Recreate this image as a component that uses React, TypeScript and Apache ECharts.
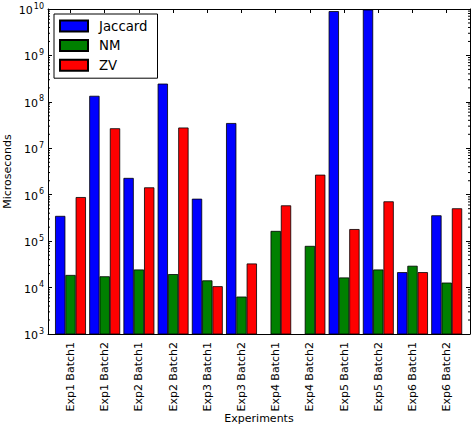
import React, { useEffect, useRef } from "react";
import * as echarts from "echarts";

// Run-time measurements per experiment batch (microseconds)
const experiments = [
  "Exp1 Batch1", "Exp1 Batch2", "Exp2 Batch1", "Exp2 Batch2",
  "Exp3 Batch1", "Exp3 Batch2", "Exp4 Batch1", "Exp4 Batch2",
  "Exp5 Batch1", "Exp5 Batch2", "Exp6 Batch1", "Exp6 Batch2",
];
const jaccard: (number | null)[] = [3.5e5, 1.35e8, 2.3e6, 2.47e8, 8.2e5, 3.5e7, null, null, 9.0e9, 9.7e9, 2.15e4, 3.6e5];
const nm: (number | null)[] = [1.87e4, 1.75e4, 2.45e4, 1.95e4, 1.43e4, 6.4e3, 1.66e5, 7.9e4, 1.65e4, 2.45e4, 2.95e4, 1.28e4];
const zv: (number | null)[] = [8.9e5, 2.7e7, 1.44e6, 2.8e7, 1.07e4, 3.3e4, 5.9e5, 2.7e6, 1.82e5, 7.2e5, 2.15e4, 5.1e5];

const seriesNames = ["Jaccard", "NM", "ZV"];
const seriesValues = [jaccard, nm, zv];
const seriesColors = ["#0000ff", "#008000", "#ff0000"];

const yMin = 1e3;
const yMax = 1e10;
const xMin = -0.658;
const xMax = 11.681;

// log-axis minor tick positions (2..9 within each decade)
const minorTicks: number[] = [];
for (let e = 3; e < 10; e++) {
  for (let m = 2; m <= 9; m++) minorTicks.push(m * Math.pow(10, e));
}

const FONT = "DejaVu Sans";
const BLACK = "#000000";

export default function App() {
  const ref = useRef<HTMLDivElement>(null);

  useEffect(() => {
    document.body.style.margin = "0";
    if (!ref.current) return;
    const chart = echarts.init(ref.current, undefined, { renderer: "svg" });
    const catIdx = experiments.map((_, i) => i);

    const logAxisBase = {
      type: "log",
      logBase: 10,
      min: yMin,
      max: yMax,
      splitNumber: 7,
      nameMoveOverlap: false,
      splitLine: { show: false },
      axisLine: { show: true, onZero: false, lineStyle: { color: BLACK, width: 1 } },
      axisTick: { show: true, inside: true, length: 4, lineStyle: { color: BLACK, width: 1 } },
    };

    const option: any = {
      animation: false,
      backgroundColor: "#ffffff",
      textStyle: { fontFamily: FONT, color: BLACK },
      grid: { left: 48, top: 9, width: 422, height: 325, containLabel: false, outerBoundsMode: "none" },
      legend: {
        data: seriesNames,
        orient: "vertical",
        left: 54,
        top: 14,
        icon: "rect",
        itemWidth: 28,
        itemHeight: 11,
        itemGap: 5.6,
        padding: [5, 10, 6, 5],
        borderColor: BLACK,
        borderWidth: 1,
        borderRadius: 0,
        backgroundColor: "#ffffff",
        textStyle: { fontFamily: FONT, fontSize: 13.3, color: BLACK, lineHeight: 14, padding: [0, 0, 0, 6] },
      },
      xAxis: [
        {
          type: "value",
          position: "bottom",
          min: xMin,
          max: xMax,
          nameMoveOverlap: false,
          splitLine: { show: false },
          axisLine: { show: true, onZero: false, lineStyle: { color: BLACK, width: 1 } },
          axisTick: { show: true, inside: true, length: 4, customValues: catIdx, lineStyle: { color: BLACK } },
          axisLabel: {
            customValues: catIdx,
            formatter: (v: number) => experiments[Math.round(v)] ?? "",
            rotate: 90,
            margin: 8,
            fontSize: 11,
            fontFamily: FONT,
            color: BLACK,
          },
          name: "Experiments",
          nameLocation: "middle",
          nameGap: 79,
          nameTextStyle: { fontSize: 11, fontFamily: FONT, color: BLACK },
        },
        {
          type: "value",
          position: "top",
          min: xMin,
          max: xMax,
          splitLine: { show: false },
          axisLine: { show: true, onZero: false, lineStyle: { color: BLACK, width: 1 } },
          axisTick: { show: true, inside: true, length: 4, customValues: catIdx, lineStyle: { color: BLACK } },
          axisLabel: { show: false },
        },
      ],
      yAxis: [
        {
          ...logAxisBase,
          position: "left",
          axisLabel: {
            margin: 4,
            formatter: (v: number) => `{b|10}{s|${Math.round(Math.log10(v))}}`,
            rich: {
              b: { fontSize: 11, fontFamily: FONT, color: BLACK, lineHeight: 14, verticalAlign: "bottom" },
              s: { fontSize: 8, fontFamily: FONT, color: BLACK, lineHeight: 8, verticalAlign: "top", padding: [0, 0, 0, 1] },
            },
          },
          name: "Microseconds",
          nameLocation: "middle",
          nameGap: 35,
          nameTextStyle: { fontSize: 11, fontFamily: FONT, color: BLACK },
        },
        {
          ...logAxisBase,
          position: "right",
          axisLabel: { show: false },
        },
      ],
      series: [
        ...seriesNames.map((name, k) => ({
          name,
          type: "bar",
          xAxisIndex: 0,
          yAxisIndex: 0,
          barWidth: 10.3,
          barGap: "0%",
          itemStyle: { color: seriesColors[k], borderColor: BLACK, borderWidth: 0.8 },
          data: seriesValues[k].map((v, i) => [i, v]),
        })),
        {
          name: "minor ticks",
          type: "custom",
          xAxisIndex: 0,
          yAxisIndex: 0,
          silent: true,
          z: 5,
          data: minorTicks.map((v) => [0, v]),
          encode: { x: 0, y: 1 },
          renderItem: (params: any, api: any) => {
            const cs = params.coordSys;
            const y = api.coord([0, api.value(1)])[1];
            const style = { stroke: BLACK, lineWidth: 1 };
            return {
              type: "group",
              children: [
                { type: "line", shape: { x1: cs.x, y1: y, x2: cs.x + 2, y2: y }, style },
                { type: "line", shape: { x1: cs.x + cs.width - 2, y1: y, x2: cs.x + cs.width, y2: y }, style },
              ],
            };
          },
        },
      ],
    };

    chart.setOption(option);
    return () => chart.dispose();
  }, []);

  return <div ref={ref} style={{ width: 474, height: 430 }} />;
}
